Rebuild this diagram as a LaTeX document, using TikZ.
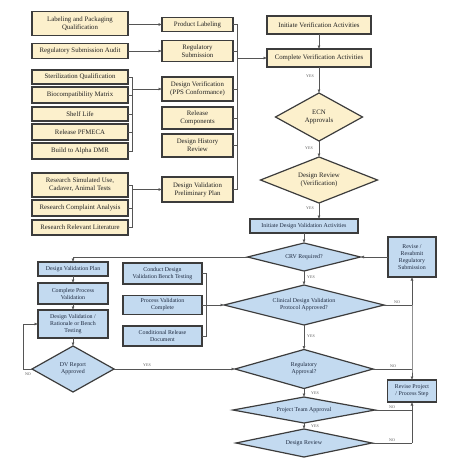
\documentclass[tikz,border=0pt]{standalone}
\usepackage{fontspec}
\setmainfont{Liberation Serif}
\usetikzlibrary{shapes.geometric,arrows.meta}
\definecolor{yfill}{HTML}{FCF0CC}
\definecolor{bfill}{HTML}{C3DAF0}
\definecolor{edge}{HTML}{3C3C3C}
\definecolor{lin}{HTML}{555555}
\definecolor{txt}{HTML}{222222}
\definecolor{btxt}{HTML}{1E2A40}
\begin{document}
\begin{tikzpicture}[x=1pt,y=-1pt,
 ybox/.style={draw=edge, line width=1.2pt, fill=yfill, inner sep=0pt, outer sep=0pt, align=center, text=txt, font=\fontsize{6.8}{7.9}\selectfont},
 bbox/.style={ybox, fill=bfill, text=btxt, font=\fontsize{5.9}{7}\selectfont},
 ydia/.style={diamond, draw=edge, line width=1.2pt, fill=yfill, inner sep=0pt, outer sep=0pt, align=center, text=txt, font=\fontsize{6.8}{7.9}\selectfont},
 bdia/.style={ydia, fill=bfill, text=btxt, font=\fontsize{5.9}{7}\selectfont},
 conn/.style={draw=lin, line width=0.6pt},
 arr/.style={conn, -{Latex[length=3.5pt,width=3pt]}},
 lab/.style={font=\fontsize{4}{4.2}\selectfont, text=lin, inner sep=0.5pt},
]
\fill[white] (0,0) rectangle (474,464);
\useasboundingbox (0,0) rectangle (474,464);

% ---- left yellow column
\node[ybox, minimum width=96pt, minimum height=24pt] (lpq) at (80,23.5) {Labeling and Packaging\\Qualification};
\node[ybox, minimum width=96pt, minimum height=15pt] (rsa) at (80,51) {Regulatory Submission Audit};
\node[ybox, minimum width=96pt, minimum height=14pt] (sq) at (80,77) {Sterilization Qualification};
\node[ybox, minimum width=96pt, minimum height=16pt] (bm) at (80,95) {Biocompatibility Matrix};
\node[ybox, minimum width=96pt, minimum height=14pt] (sl) at (80,114) {Shelf Life};
\node[ybox, minimum width=96pt, minimum height=16pt] (pf) at (80,132) {Release PFMECA};
\node[ybox, minimum width=96pt, minimum height=16pt] (bad) at (80,151) {Build to Alpha DMR};
\node[ybox, minimum width=96pt, minimum height=24pt] (rsu) at (80,185) {Research Simulated Use,\\Cadaver, Animal Tests};
\node[ybox, minimum width=96pt, minimum height=16pt] (rca) at (80,208) {Research Complaint Analysis};
\node[ybox, minimum width=96pt, minimum height=15pt] (rrl) at (80,227.5) {Research Relevant Literature};

% ---- middle yellow column
\node[ybox, minimum width=71pt, minimum height=14pt] (pl) at (197.5,24.5) {Product Labeling};
\node[ybox, minimum width=71pt, minimum height=21pt] (rs) at (197.5,51) {Regulatory\\Submission};
\node[ybox, minimum width=71pt, minimum height=24pt] (dv) at (197.5,89) {Design Verification\\(PPS Conformance)};
\node[ybox, minimum width=71pt, minimum height=22pt] (rc) at (197.5,118) {Release\\Components};
\node[ybox, minimum width=71pt, minimum height=23pt] (dhr) at (197.5,145.5) {Design History\\Review};
\node[ybox, minimum width=71pt, minimum height=25pt] (dvpp) at (197.5,189.5) {Design Validation\\Preliminary Plan};

% ---- right yellow column
\node[ybox, minimum width=104pt, minimum height=18pt] (iva) at (319,25) {Initiate Verification Activities};
\node[ybox, minimum width=104pt, minimum height=18pt] (cva) at (319,58) {Complete Verification Activities};
\node[ydia, aspect=1.81, minimum width=87pt, minimum height=48pt] (ecn) at (319,117) {ECN\\Approvals};
\node[ydia, aspect=2.54, minimum width=117pt, minimum height=46pt] (drv) at (319,180) {Design Review\\(Verification)};

% ---- blue part
\node[bbox, minimum width=108pt, minimum height=14pt] (idva) at (304,226) {Initiate Design Validation Activities};
\node[bdia, aspect=4.04, minimum width=113pt, minimum height=28pt] (crv) at (304,257) {CRV Required?};
\node[bbox, minimum width=48pt, minimum height=40pt] (rrs) at (412,257) {Revise /\\Resubmit\\Regulatory\\Submission};
\node[bdia, aspect=4, minimum width=160pt, minimum height=40pt] (cdvp) at (304,305) {Clinical Design Validation\\Protocol Approved?};
\node[bdia, aspect=3.54, minimum width=138pt, minimum height=39pt] (ra) at (304,369) {Regulatory\\Approval?};
\node[bdia, aspect=5.46, minimum width=142pt, minimum height=26pt] (pta) at (304,410) {Project Team Approval};
\node[bdia, aspect=4.86, minimum width=136pt, minimum height=28pt] (dr) at (304,443) {Design Review};
\node[bbox, minimum width=49pt, minimum height=22pt] (rp) at (412,391) {Revise Project\\/ Process Step};

\node[bbox, minimum width=70pt, minimum height=14pt] (dvp) at (73,269) {Design Validation Plan};
\node[bbox, minimum width=70pt, minimum height=21pt] (cpv) at (73,293.5) {Complete Process\\Validation};
\node[bbox, minimum width=70pt, minimum height=28pt] (dvr) at (73,324) {Design Validation /\\Rationale or Bench\\Testing};
\node[bdia, aspect=1.78, minimum width=82pt, minimum height=46pt] (dvra) at (73,369) {DV Report\\Approved};

\node[bbox, minimum width=79pt, minimum height=21pt] (cbt) at (162.5,273.5) {Conduct Design\\Validation Bench Testing};
\node[bbox, minimum width=79pt, minimum height=19pt] (pvc) at (162.5,305) {Process Validation\\Complete};
\node[bbox, minimum width=79pt, minimum height=20pt] (crd) at (162.5,336) {Conditional Release\\Document};

% ---- helper coordinates
\coordinate (b1) at (132,89);
\coordinate (b2) at (132,189.5);
\coordinate (b3) at (237,58);
\coordinate (b4) at (206,305);
\coordinate (j1) at (412,305);
\coordinate (j2) at (412,369);
\coordinate (j3) at (412,410);
\coordinate (j4) at (412,443);

% ---- top connectors
\draw[arr] (lpq.east |- pl.west) -- (pl.west);
\draw[arr] (rsa.east) -- (rs.west);
\draw[conn] (sq.east) -| (b1 |- bad.east) -- (bad.east);
\foreach \n in {bm,sl,pf} \draw[conn] (\n.east) -- (\n.east -| b1);
\draw[arr] (b1) -- (dv.west);
\draw[conn] (rsu.east) -| (b2 |- rrl.east) -- (rrl.east);
\draw[conn] (rca.east) -- (rca.east -| b2);
\draw[arr] (b2) -- (dvpp.west);
\draw[conn] (pl.east) -| (b3 |- dvpp.east) -- (dvpp.east);
\foreach \n in {rs,dv,rc,dhr} \draw[conn] (\n.east) -- (\n.east -| b3);
\draw[arr] (b3) -- (cva.west);

\draw[arr] (iva.south) -- (cva.north);
\draw[arr] (cva.south) -- (ecn.north);
\node[lab] at (310,76) {YES};
\draw[arr] (ecn.south) -- (drv.north);
\node[lab] at (309,148) {YES};
\draw[arr] (drv.south) -- (drv.south |- idva.north);
\node[lab] at (310,208) {YES};

% ---- lower connectors
\draw[arr] (idva.south) -- (crv.north);
\draw[arr] (rrs.west) -- (crv.east);
\draw[arr] (crv.west) -| (dvp.north);
\draw[arr] (crv.south) -- (cdvp.north);
\node[lab] at (311,277) {YES};
\draw[conn] (cdvp.east) -- (j1);
\node[lab] at (397,302) {NO};
\draw[arr] (j1) -- (rrs.south);
\draw[conn] (cbt.east) -| (b4 |- crd.east) -- (crd.east);
\draw[arr] (pvc.east) -- (cdvp.west);
\draw[arr] (cdvp.south) -- (ra.north);
\node[lab] at (311,336) {YES};
\draw[conn] (ra.east) -- (j2);
\node[lab] at (393,366) {NO};
\draw[arr] (j1) -- (j2) -- (rp.north);
\draw[arr] (ra.south) -- (pta.north);
\node[lab] at (315,393) {YES};
\draw[arr] (pta.south) -- (dr.north);
\node[lab] at (315,426) {YES};
\draw[conn] (pta.east) -- (j3);
\node[lab] at (392,407) {NO};
\draw[conn] (dr.east) -- (j4);
\node[lab] at (392,440) {NO};
\draw[arr] (j4) -- (rp.south);

\draw[arr] (dvp.south) -- (cpv.north);
\draw[arr] (cpv.south) -- (dvr.north);
\draw[arr] (dvr.south) -- (dvra.north);
\draw[arr] (dvra.west) -- ++(-9,0) |- (dvr.west);
\node[lab] at (28,374) {NO};
\draw[arr] (dvra.east) -- (ra.west);
\node[lab] at (147,365) {YES};
\end{tikzpicture}
\end{document}
